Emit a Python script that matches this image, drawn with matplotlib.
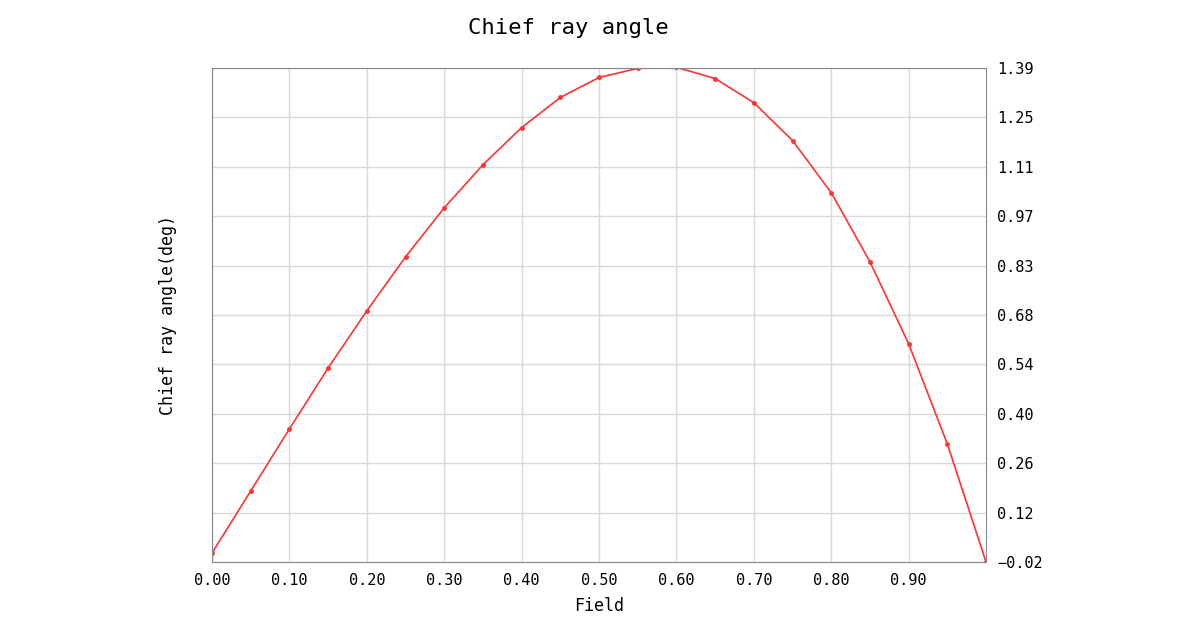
import matplotlib
matplotlib.use("Agg")
import matplotlib.pyplot as plt
import numpy as np

field = [0.0,0.05,0.1,0.15,0.2,0.25,0.3,0.35,0.4,0.45,0.5,0.55,0.6,0.65,0.7,0.75,0.8,0.85,0.9,0.95,1.0]
angle = [0.006,0.183,0.36,0.534,0.697,0.851,0.991,1.114,1.22,1.306,1.363,1.389,1.392,1.36,1.291,1.183,1.034,0.837,0.603,0.317,-0.02]
xticks = [0.0,0.1,0.2,0.3,0.4,0.5,0.6,0.7,0.8,0.9]
ytick_labels = ["-0.02","0.12","0.26","0.40","0.54","0.68","0.83","0.97","1.11","1.25","1.39"]

plt.rcParams['font.family'] = ['DejaVu Sans Mono']
fig = plt.figure(figsize=(12,6.28), dpi=100)
ax = fig.add_axes([0.1767,0.105,0.645,0.7867])
ax.plot(field, angle, color='#ff3333', lw=1.2, marker='o', ms=2.5)
ymin, ymax = -0.02, 1.39
ax.set_xlim(0,1); ax.set_ylim(ymin, ymax)
ax.set_xticks(xticks)
ax.set_xticklabels([f"{t:.2f}" for t in xticks], fontsize=11)
yt = np.linspace(ymin, ymax, len(ytick_labels))
ax.set_yticks(yt)
ax.set_yticklabels([s.replace('-', '\u2212') for s in ytick_labels], fontsize=11)
ax.yaxis.tick_right()
ax.tick_params(length=0, pad=8)
ax.grid(True, color='#d9d9d9', lw=1)
for s in ax.spines.values():
    s.set_color('#888888')
ax.set_xlabel("Field", fontsize=12, labelpad=6)
ax.set_ylabel("Chief ray angle(deg)", fontsize=12, labelpad=25)
ax.yaxis.set_label_position('left')
fig.text(0.474, 0.955, "Chief ray angle", ha='center', va='center', fontsize=16)
fig.savefig("out.png", dpi=100)
